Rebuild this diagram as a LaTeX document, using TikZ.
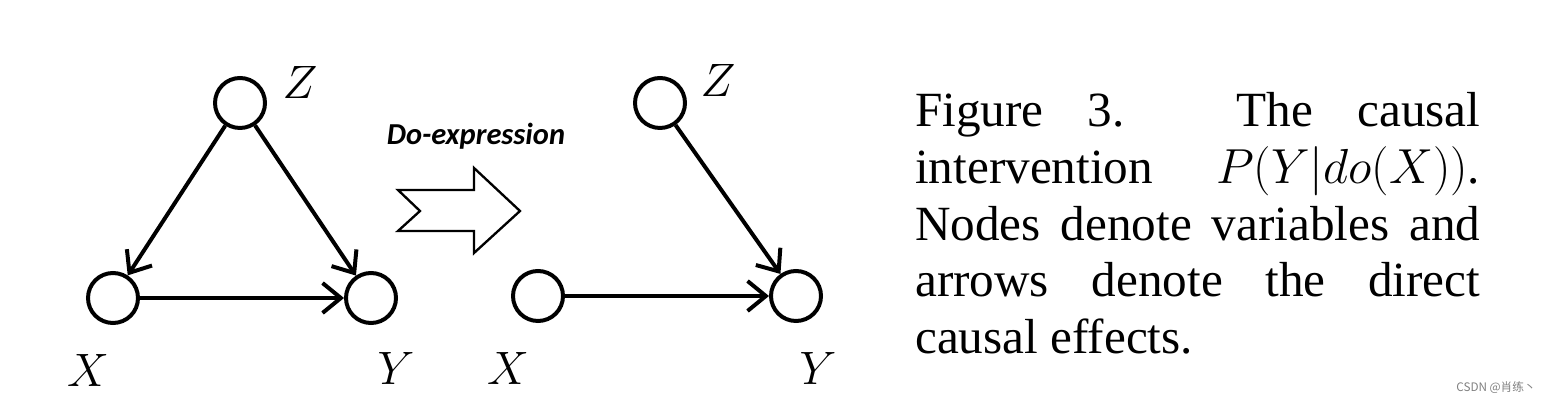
\RequirePackage{fix-cm}
\documentclass[tikz,border=0pt]{standalone}
\usepackage{fontspec}
\setmainfont{Liberation Serif}
\newfontfamily\carl{Carlito}
\newfontfamily\cjk{Noto Sans CJK SC}
\usetikzlibrary{arrows.meta}
\begin{document}
\begin{tikzpicture}[x=0.03cm,y=-0.03cm,
  var/.style={circle,draw,line width=3.4pt,minimum size=1.5cm,inner sep=0pt},
  edge/.style={line width=3.4pt,-{Straight Barb[length=0.55cm,width=0.9cm,line width=3.4pt]}},
  lab/.style={font=\fontsize{40}{40}\selectfont}]
\useasboundingbox (0,0) rectangle (1544,404);
\node[var] (z1) at (240,103) {};
\node[var] (x1) at (113,298) {};
\node[var] (y1) at (371,298) {};
\node[var] (z2) at (660,103) {};
\node[var] (x2) at (538,296) {};
\node[var] (y2) at (796,296) {};
\draw[edge] (z1) -- (x1);
\draw[edge] (z1) -- (y1);
\draw[edge] (x1) -- (y1);
\draw[edge] (z2) -- (y2);
\draw[edge] (x2) -- (y2);
\node[lab] (lz1) at (300,82) {$Z$};
\node[lab] (lx1) at (88,370) {$X$};
\node[lab] (ly1) at (396,368) {$Y$};
\node[lab] (lz2) at (718,80) {$Z$};
\node[lab] (lx2) at (508,368) {$X$};
\node[lab] (ly2) at (818,368) {$Y$};
\node[font=\carl\bfseries\itshape\fontsize{26}{26}\selectfont] (do) at (476,136) {Do-expression};
\draw[line width=2pt,line join=miter] (398,190) -- (474,190) -- (474,168) -- (520,211) -- (474,253) -- (474,231) -- (398,231) -- (420,211) -- cycle;
\node[anchor=north west,inner sep=0pt,text width=16.95cm,align=justify,font=\fontsize{42}{48.5}\selectfont] (cap) at (915,92)
 {\hyphenpenalty=10000 Figure 3. The causal\linebreak intervention \quad $P(Y|do(X))$.\linebreak Nodes denote variables and\linebreak arrows denote the direct\linebreak causal effects.};
\node[anchor=east,text=gray,font=\cjk\fontsize{10}{10}\selectfont] (wm) at (1540,388) {CSDN @肖练丶};
\end{tikzpicture}
\end{document}
